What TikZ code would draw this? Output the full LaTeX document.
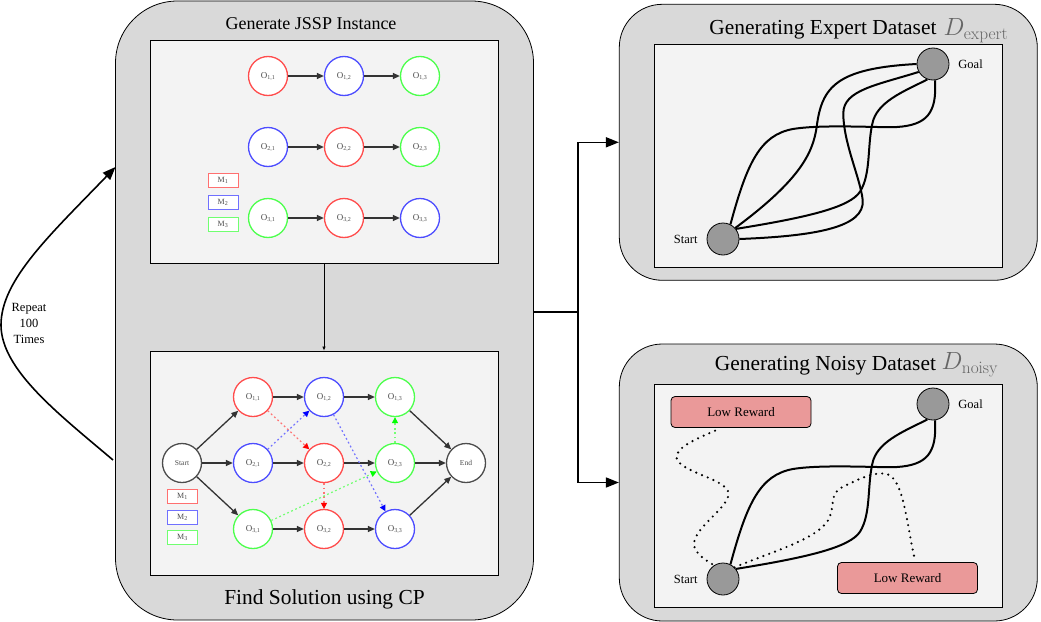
\documentclass[tikz,border=0pt]{standalone}
\usepackage[no-math]{fontspec}
\setmainfont{Liberation Serif}
\usepackage{xcolor}
\usetikzlibrary{arrows.meta,positioning}
\definecolor{panelgray}{HTML}{D9D9D9}
\definecolor{innergray}{HTML}{F3F3F3}
\definecolor{nodegray}{HTML}{999999}
\definecolor{lowred}{HTML}{EA9999}
\definecolor{opred}{HTML}{FF4C4C}
\definecolor{opblue}{HTML}{4C4CFF}
\definecolor{opgreen}{HTML}{4CFF4C}
\tikzset{
    panel/.style={draw=black,line width=0.8pt,fill=panelgray,rounded corners=#1,inner sep=0pt},
    innerbox/.style={draw=black,line width=1pt,fill=innergray,inner sep=0pt},
    op/.style={circle,draw=#1,line width=1.3pt,fill=white,minimum size=39pt,inner sep=0pt,text=black!70,font=\fontsize{9}{10}\selectfont},
    legendbox/.style={draw=#1,line width=1pt,fill=white,minimum width=30pt,minimum height=14pt,inner sep=0pt,text=black!70,font=\fontsize{8}{9}\selectfont},
    job/.style={-{Triangle[length=7pt,width=6pt]},line width=1.3pt,black!80},
    disj/.style={-{Triangle[length=6pt,width=6pt,color=#1]},line width=1.2pt,dash pattern=on 1.8pt off 2.6pt,#1!55},
    state/.style={circle,draw=black,line width=0.8pt,fill=nodegray,minimum size=32pt,inner sep=0pt},
    lowbox/.style={draw=black,line width=0.8pt,fill=lowred,rounded corners=4pt,minimum width=140pt,minimum height=31pt,inner sep=0pt,font=\fontsize{13}{15}\selectfont},
    expertpath/.style={line width=2pt},
    noisypath/.style={line width=2.4pt,line cap=round,dash pattern=on 0pt off 6.2pt},
    flow/.style={-{Triangle[length=13pt,width=10pt]},line width=1.6pt},
    titletext/.style={font=\fontsize{#1}{#1}\selectfont},
    smalltext/.style={font=\fontsize{12.5}{16}\selectfont}
}
\begin{document}
\begin{tikzpicture}[x=1pt,y=-1pt]
    \useasboundingbox (0,0) rectangle (1041,621);
    % panels
    \node[panel=62pt,minimum width=418pt,minimum height=619pt] (instpanel) at (324.5,310.5) {};
    \node[panel=43pt,minimum width=418pt,minimum height=276pt] (expertpanel) at (828.3,142.3) {};
    \node[panel=43pt,minimum width=418pt,minimum height=277pt] (noisypanel) at (828.3,482.5) {};
    \node[innerbox,minimum width=348pt,minimum height=223pt] (instbox) at (324,151.5) {};
    \node[innerbox,minimum width=348pt,minimum height=224pt] (solbox) at (324,463) {};
    \node[innerbox,minimum width=348pt,minimum height=223pt] (expertbox) at (828,155.5) {};
    \node[innerbox,minimum width=348pt,minimum height=223pt] (noisybox) at (828,495.5) {};
    % titles
    \node[titletext=18] (insttitle) at (311,24) {Generate JSSP Instance};
    \node[titletext=21.4] (soltitle) at (324.5,599.5) {Find Solution using CP};
    \node[titletext=21.4,anchor=east] (experttitle) at (940,29.5) {Generating Expert Dataset};
    \node[anchor=west,text=black!60,inner sep=0pt] (expertsym) at (943.5,31) {\fontsize{26.5}{28}\selectfont$D_{\mathrm{expert}}$};
    \node[titletext=21.4,anchor=east] (noisytitle) at (939.5,366) {Generating Noisy Dataset};
    \node[anchor=west,text=black!60,inner sep=0pt] (noisysym) at (941.5,365) {\fontsize{26.5}{28}\selectfont$D_{\mathrm{noisy}}$};
    % JSSP instance
    \node[op=opred] (a11) at (268,76) {O\textsubscript{1,1}};
    \node[op=opblue] (a12) at (344,76) {O\textsubscript{1,2}};
    \node[op=opgreen] (a13) at (420,76) {O\textsubscript{1,3}};
    \node[op=opblue] (a21) at (268,147) {O\textsubscript{2,1}};
    \node[op=opred] (a22) at (344,147) {O\textsubscript{2,2}};
    \node[op=opgreen] (a23) at (420,147) {O\textsubscript{2,3}};
    \node[op=opgreen] (a31) at (268,218) {O\textsubscript{3,1}};
    \node[op=opred] (a32) at (344,218) {O\textsubscript{3,2}};
    \node[op=opblue] (a33) at (420,218) {O\textsubscript{3,3}};
    \foreach \r in {1,2,3} {
        \draw[job] (a\r1) -- (a\r2);
        \draw[job] (a\r2) -- (a\r3);
    }
    \node[legendbox=opred!80] (am1) at (223,180) {M\textsubscript{1}};
    \node[legendbox=opblue!80] (am2) at (223,202) {M\textsubscript{2}};
    \node[legendbox=opgreen!80] (am3) at (223,224.5) {M\textsubscript{3}};
    % CP solution
    \node[op=black!70,font=\fontsize{7.5}{8}\selectfont] (start) at (182,463) {Start};
    \node[op=black!70,font=\fontsize{7.5}{8}\selectfont] (end) at (466,463) {End};
    \node[op=opred] (b11) at (253,397) {O\textsubscript{1,1}};
    \node[op=opblue] (b12) at (324,397) {O\textsubscript{1,2}};
    \node[op=opgreen] (b13) at (395,397) {O\textsubscript{1,3}};
    \node[op=opblue] (b21) at (253,463) {O\textsubscript{2,1}};
    \node[op=opred] (b22) at (324,463) {O\textsubscript{2,2}};
    \node[op=opgreen] (b23) at (395,463) {O\textsubscript{2,3}};
    \node[op=opgreen] (b31) at (253,529) {O\textsubscript{3,1}};
    \node[op=opred] (b32) at (324,529) {O\textsubscript{3,2}};
    \node[op=opblue] (b33) at (395,529) {O\textsubscript{3,3}};
    \foreach \r in {1,2,3} {
        \draw[job] (start) -- (b\r1);
        \draw[job] (b\r1) -- (b\r2);
        \draw[job] (b\r2) -- (b\r3);
        \draw[job] (b\r3) -- (end);
    }
    \draw[disj=red] (b11) -- (b22);
    \draw[disj=red] (b22) -- (b32);
    \draw[disj=blue] (b21) -- (b12);
    \draw[disj=blue] (b12) -- (b33);
    \draw[disj=green] (b23) -- (b13);
    \draw[disj=green] (b31) -- (b23);
    \node[legendbox=opred!80] (bm1) at (182.5,496) {M\textsubscript{1}};
    \node[legendbox=opblue!80] (bm2) at (182.5,517) {M\textsubscript{2}};
    \node[legendbox=opgreen!80] (bm3) at (182.5,537.5) {M\textsubscript{3}};
    % expert dataset
    \node[state] (estart) at (723,239) {};
    \node[state] (egoal) at (933,64) {};
    \node[smalltext,left=5.5pt of estart] (estartlabel) {Start};
    \node[smalltext,right=5.5pt of egoal] (egoallabel) {Goal};
    \draw[expertpath] (estart.42) .. controls (800,180) and (813,153) .. (816.7,126.7)
        .. controls (821.7,86.7) and (836.7,68.3) .. (egoal.180);
    \draw[expertpath] (estart.0) .. controls (817,236) and (865,227) .. (862.7,200)
        .. controls (860,177) and (843.3,143) .. (843.3,113.3)
        .. controls (843.3,90) and (877,85) .. (egoal.209);
    \draw[expertpath] (estart.38) .. controls (810,217) and (850,207) .. (860,191.7)
        .. controls (871.7,173) and (866.7,143) .. (873.3,120)
        .. controls (880,100) and (907,90) .. (egoal.250);
    \draw[expertpath] (estart.63) .. controls (747,163) and (760,135) .. (793,129)
        .. controls (823,124) and (883,128) .. (897,127)
        .. controls (927,125) and (937,113) .. (egoal.277);
    % noisy dataset
    \node[state] (nstart) at (723,579) {};
    \node[state] (ngoal) at (933,404) {};
    \node[smalltext,left=5.5pt of nstart] (nstartlabel) {Start};
    \node[smalltext,right=5.5pt of ngoal] (ngoallabel) {Goal};
    \node[lowbox] (lowa) at (741,412) {Low Reward};
    \node[lowbox] (lowb) at (907.5,578) {Low Reward};
    \draw[expertpath] (nstart.38) .. controls (810,557) and (850,547) .. (860,531.7)
        .. controls (871.7,513) and (866.7,483) .. (873.3,460)
        .. controls (880,440) and (907,430) .. (ngoal.250);
    \draw[expertpath] (nstart.63) .. controls (747,503) and (760,475) .. (793,469)
        .. controls (823,464) and (883,468) .. (897,467)
        .. controls (927,465) and (937,453) .. (ngoal.277);
    \coordinate (lowaend) at (715,430.7);
    \coordinate (lowbend) at (914.3,557.3);
    \draw[noisypath] (lowaend) .. controls (693.3,440) and (675,448.3) .. (676.7,458.3)
        .. controls (680,471.7) and (723.3,478.3) .. (728.3,491.7)
        .. controls (731.7,506.7) and (693.3,526.7) .. (694,545)
        .. controls (695,553.3) and (705,560) .. (nstart.123);
    \draw[noisypath] (nstart.45) .. controls (766.7,553.3) and (816.7,540) .. (828.3,520)
        .. controls (836.7,503.3) and (826.7,493.3) .. (846.7,485)
        .. controls (863.3,476.7) and (876.7,471.7) .. (886.7,474)
        .. controls (903.3,478.3) and (906.7,523.3) .. (lowbend);
    % connectors between panels
    \coordinate (repeatfrom) at (113,460);
    \coordinate (repeatto) at (115.5,167);
    \draw[flow] (repeatfrom) .. controls (60,415) and (1,370) .. (1,325)
        .. controls (1,280) and (50,235) .. (repeatto);
    \node[smalltext,align=center] (repeatlabel) at (29,323) {Repeat\\100\\Times};
    \draw[-{Latex[length=4pt,width=3.5pt]},line width=0.6pt] (instbox) -- (solbox);
    \coordinate (fork) at (578,312);
    \draw[line width=1.6pt] (instpanel.east |- fork) -- (fork);
    \draw[flow] (fork) |- (expertpanel.west);
    \draw[flow] (fork) |- (noisypanel.west);
\end{tikzpicture}
\end{document}
